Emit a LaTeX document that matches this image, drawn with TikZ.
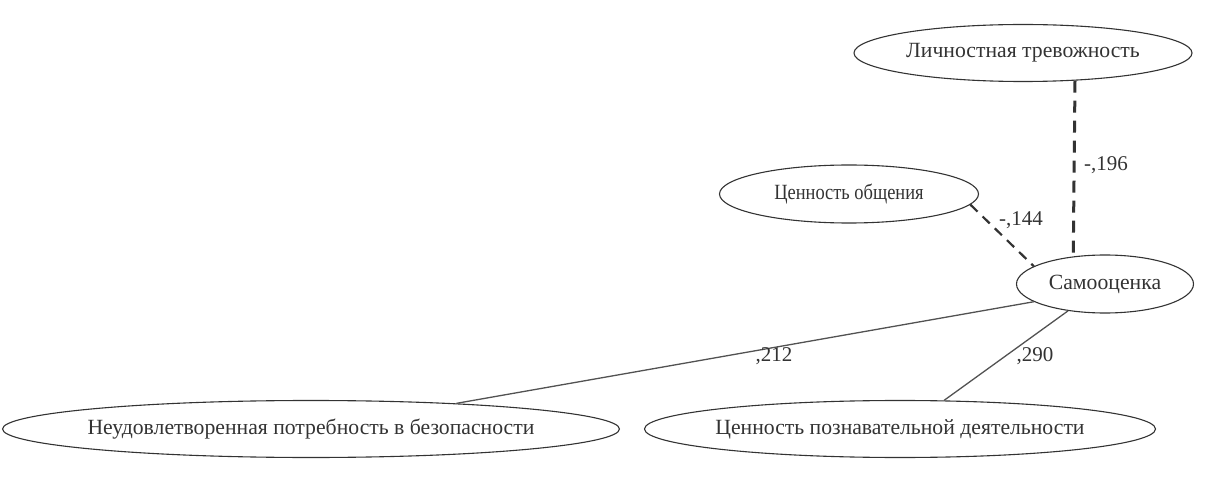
\documentclass[tikz,border=0pt]{standalone}
\usepackage{fontspec}
\setmainfont{Liberation Serif}
\usetikzlibrary{shapes.geometric}
\definecolor{ink}{HTML}{333333}
\tikzset{
  var/.style={ellipse, draw=ink, line width=1.1pt, inner sep=0pt,
    label={[text=ink, inner sep=0pt, font=\fontsize{21.7}{25}\selectfont]center:#1}},
  lbl/.style={text=ink, inner sep=0pt, font=\fontsize{21}{24}\selectfont},
  strongdash/.style={draw=ink, line width=3pt, dash pattern=on 12pt off 8pt},
  weakdash/.style={draw=ink, line width=2.2pt, dash pattern=on 10pt off 7pt},
  solidlink/.style={draw=ink!85, line width=1.3pt}
}
\begin{document}
\begin{tikzpicture}[x=1pt,y=-1pt]
\useasboundingbox (0,0) rectangle (1211,481);
\node[var={Личностная тревожность}, minimum width=338pt, minimum height=57pt] (t) at (1023,53) {};
\node[var={\scalebox{0.85}[1]{Ценность общения}}, minimum width=259pt, minimum height=58pt] (o) at (849,194) {};
\node[var={Самооценка}, minimum width=177pt, minimum height=58pt] (s) at (1105,284) {};
\node[var={Неудовлетворенная потребность в безопасности}, minimum width=617pt, minimum height=57pt] (b) at (311,429) {};
\node[var={Ценность познавательной деятельности}, minimum width=511pt, minimum height=57pt] (p) at (900,429) {};

\draw[strongdash] (t.-28.5) -- (s.139.8);
\draw[weakdash] (o.-5.2) -- (s.166.7);
\draw[solidlink] (s.-166) -- (b.10.1);
\draw[solidlink] (s.-144.6) -- (p.33.8);

\node[lbl] (l1) at (1106,165) {-,196};
\node[lbl] (l2) at (1021,220) {-,144};
\node[lbl] (l3) at (774,356) {,212};
\node[lbl] (l4) at (1035,356) {,290};
\end{tikzpicture}
\end{document}
